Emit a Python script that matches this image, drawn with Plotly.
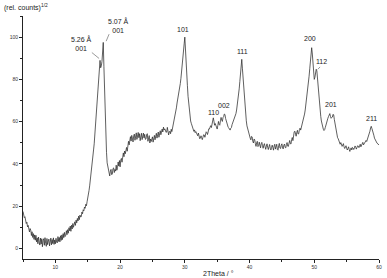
import plotly.graph_objects as go

# 2Theta grid: start and step (degrees)
theta_start = 5.0
theta_step = 0.1

# sqrt(rel. counts), every 0.1 degrees from 5.0 to 60.0 (one row per degree)
counts = [
    17.5, 16.2, 14.6, 15.0, 13.2, 11.8, 12.4, 10.2, 10.9, 9.0,
    7.8, 9.4, 8.6, 6.1, 7.9, 5.2, 7.0, 4.3, 6.4, 3.9,
    6.2, 3.1, 5.0, 2.2, 5.4, 3.0, 1.6, 4.9, 2.1, 4.6,
    0.8, 3.8, 4.6, 1.5, 5.1, 2.4, 1.0, 4.7, 1.8, 3.5,
    4.4, 1.2, 3.0, 4.9, 1.7, 4.2, 2.3, 5.0, 1.9, 4.0,
    2.2, 4.8, 3.0, 2.6, 5.6, 3.3, 5.2, 3.1, 6.0, 3.8,
    6.4, 4.2, 7.0, 5.1, 7.6, 5.6, 6.2, 8.4, 6.5, 8.9,
    7.2, 9.8, 8.4, 10.6, 8.1, 11.0, 9.2, 11.8, 10.0, 12.2,
    12.6, 10.9, 13.4, 12.1, 14.2, 13.0, 15.3, 13.6, 15.8, 14.9,
    15.0, 17.2, 16.4, 18.3, 17.8, 19.6, 19.0, 20.9, 20.2, 22.1,
    23.4, 25.2, 27.4, 29.6, 32.0, 34.6, 37.5, 40.4, 43.5, 46.6,
    49.5, 54.0, 58.5, 63.2, 68.0, 73.0, 78.5, 83.6, 88.0, 89.0,
    85.5, 86.4, 88.5, 93.0, 97.5, 86.0, 72.0, 61.5, 52.0, 45.5,
    40.5, 38.4, 36.8, 35.2, 34.3, 36.6, 37.4, 34.9, 35.2, 37.8,
    38.1, 35.9, 37.4, 36.6, 39.4, 37.0, 38.2, 40.9, 39.0, 41.6,
    38.6, 41.8, 42.6, 40.8, 43.9, 45.2, 43.4, 46.1, 44.8, 47.3,
    47.8, 46.0, 48.9, 50.7, 49.0, 51.6, 52.9, 50.8, 53.5, 52.2,
    50.4, 53.2, 54.1, 51.2, 53.8, 54.7, 51.6, 53.0, 54.9, 52.4,
    54.3, 51.0, 53.2, 54.5, 51.5, 53.6, 54.6, 52.3, 54.0, 51.6,
    51.8, 53.7, 54.3, 50.7, 52.5, 53.4, 49.9, 51.8, 50.6, 52.4,
    52.8, 50.3, 51.9, 53.5, 51.4, 52.9, 54.5, 52.2, 53.8, 55.1,
    52.6, 54.8, 55.7, 53.8, 56.2, 56.5, 55.1, 57.4, 56.0, 56.6,
    56.0, 54.9, 55.1, 57.3, 55.8, 53.7, 55.2, 55.5, 54.3, 56.4,
    55.3, 56.9, 57.6, 58.9, 60.5, 62.4, 64.6, 66.5, 68.8, 70.3,
    72.0, 73.6, 75.8, 78.0, 80.5, 83.2, 86.5, 89.6, 93.0, 96.8,
    100.0, 95.5, 90.0, 83.2, 77.0, 72.0, 68.0, 64.8, 62.0, 60.3,
    59.2, 58.4, 57.0, 56.8, 55.4, 56.1, 54.8, 55.3, 54.3, 53.6,
    53.3, 54.6, 53.4, 51.9, 52.2, 53.3, 52.4, 51.5, 52.6, 53.8,
    53.7, 52.6, 53.5, 55.2, 54.8, 53.9, 55.1, 56.6, 56.5, 57.4,
    58.1, 57.2, 58.9, 60.4, 61.8, 60.2, 58.3, 59.1, 57.9, 56.6,
    56.5, 58.2, 60.1, 58.7, 58.3, 60.4, 62.0, 60.8, 60.1, 61.9,
    62.4, 63.6, 63.4, 61.5, 60.2, 59.4, 58.6, 57.3, 57.0, 56.2,
    56.0, 56.9, 57.2, 58.6, 59.4, 60.1, 61.0, 61.6, 62.6, 63.8,
    65.5, 67.6, 70.0, 72.6, 75.5, 79.0, 83.0, 86.6, 89.5, 85.0,
    80.0, 75.0, 70.5, 66.5, 63.0, 60.4, 58.0, 56.6, 55.2, 54.8,
    53.6, 52.2, 51.4, 53.0, 52.8, 50.7, 49.9, 51.8, 51.4, 49.6,
    48.3, 50.1, 50.7, 48.2, 48.6, 50.3, 48.9, 47.6, 49.5, 50.2,
    48.7, 47.4, 48.9, 49.6, 48.1, 46.9, 48.4, 49.5, 47.9, 46.8,
    48.1, 49.2, 47.4, 46.6, 47.8, 48.9, 47.7, 46.5, 48.5, 49.3,
    47.0, 48.1, 49.3, 46.8, 46.5, 48.6, 49.7, 47.5, 47.3, 48.9,
    49.5, 47.6, 47.1, 48.9, 49.4, 47.8, 47.6, 49.3, 50.1, 48.4,
    48.3, 49.8, 51.1, 49.6, 49.4, 51.5, 52.5, 51.0, 53.9, 55.2,
    55.5, 53.8, 53.1, 55.0, 55.9, 54.1, 54.3, 56.2, 56.9, 56.0,
    57.2, 57.8, 59.0, 60.4, 62.0, 63.6, 65.5, 67.8, 70.5, 72.6,
    75.0, 78.0, 81.5, 85.0, 88.5, 92.0, 95.0, 92.0, 88.0, 83.6,
    80.0, 81.0, 83.0, 84.8, 84.0, 79.8, 76.0, 72.0, 68.5, 65.2,
    62.5, 60.3, 58.5, 57.2, 56.4, 55.8, 56.2, 57.2, 58.6, 59.4,
    60.5, 61.6, 62.4, 63.3, 63.8, 62.5, 61.6, 62.0, 62.2, 63.5,
    63.2, 61.0, 58.8, 56.5, 54.6, 53.6, 52.4, 51.9, 51.0, 50.6,
    49.3, 50.1, 49.1, 48.3, 48.9, 49.6, 48.1, 47.3, 47.8, 48.6,
    47.4, 46.6, 47.3, 48.1, 46.7, 45.9, 47.0, 47.6, 46.6, 47.8,
    47.5, 46.8, 47.6, 48.5, 47.9, 47.0, 47.8, 48.6, 48.4, 47.7,
    48.5, 49.3, 48.1, 48.7, 49.3, 50.2, 49.0, 49.4, 49.9, 50.8,
    51.1, 50.6, 51.5, 52.3, 52.7, 54.0, 55.5, 57.0, 57.8, 56.8,
    56.0, 54.8, 53.6, 52.2, 51.2, 50.9, 50.4, 49.8, 49.6, 49.4,
    49.0,
]
two_theta = [round(theta_start + theta_step * i, 2) for i in range(len(counts))]

# peak labels
peak_labels = ["5.26 Å<br>001", "5.07 Å<br>001", "101", "110", "002", "111", "200", "112", "201", "211"]
peak_label_x = [14.0, 19.8, 29.7, 34.5, 36.1, 38.9, 49.4, 51.1, 52.6, 58.9]
peak_label_y = [96.9, 105.5, 103.8, 64.3, 67.6, 93.3, 99.5, 88.6, 68.1, 61.4]

FONT = "Liberation Sans, Arial, sans-serif"

fig = go.Figure()
fig.add_trace(go.Scatter(x=two_theta, y=counts, mode="lines",
                         line=dict(color="#2b2b2b", width=0.75),
                         showlegend=False, hoverinfo="skip"))

for t, x, y in zip(peak_labels, peak_label_x, peak_label_y):
    fig.add_annotation(x=x, y=y, text=t, showarrow=False, xref="x", yref="y",
                       font=dict(family=FONT, size=7, color="#222"),
                       xanchor="center", yanchor="middle")

# leader lines
leaders = [((15.64, 92.7), (16.76, 89.9)),
           ((18.3, 101.4), (17.85, 98.1)),
           ((50.9, 85.9), (50.55, 84.8))]
for (x0, y0), (x1, y1) in leaders:
    fig.add_shape(type="line", x0=x0, y0=y0, x1=x1, y1=y1, xref="x", yref="y",
                  line=dict(color="#555", width=0.6))

fig.add_annotation(xref="paper", yref="paper", x=-0.058, y=1.037, xanchor="left", yanchor="middle",
                   text="(rel. counts)<sup>1/2</sup>", showarrow=False,
                   font=dict(family=FONT, size=7, color="#222"))
fig.add_annotation(xref="paper", yref="paper", x=0.55, y=-0.058, xanchor="center", yanchor="middle",
                   text="2Theta / °", showarrow=False,
                   font=dict(family=FONT, size=7, color="#222"))

axis_common = dict(showgrid=False, zeroline=False, showline=True, linecolor="#222", linewidth=1,
                   ticks="outside", ticklen=3, tickwidth=1, tickcolor="#222",
                   tickfont=dict(family=FONT, size=5, color="#333"))

fig.update_xaxes(range=[5, 60], tickvals=[10, 20, 30, 40, 50, 60],
                 minor=dict(dtick=5, tick0=0, ticks="outside", ticklen=2, tickcolor="#222"),
                 **axis_common)
fig.update_yaxes(range=[-5, 110], tickvals=[0, 20, 40, 60, 80, 100],
                 minor=dict(dtick=10, tick0=0, ticks="outside", ticklen=2, tickcolor="#222"),
                 **axis_common)

fig.update_layout(width=387, height=278, margin=dict(l=23, r=5, t=16, b=19),
                  paper_bgcolor="white", plot_bgcolor="white",
                  font=dict(family=FONT))

fig.write_html("out.html", config={"displayModeBar": False},
               post_script="document.body.style.margin='0';document.body.style.overflow='hidden';")
